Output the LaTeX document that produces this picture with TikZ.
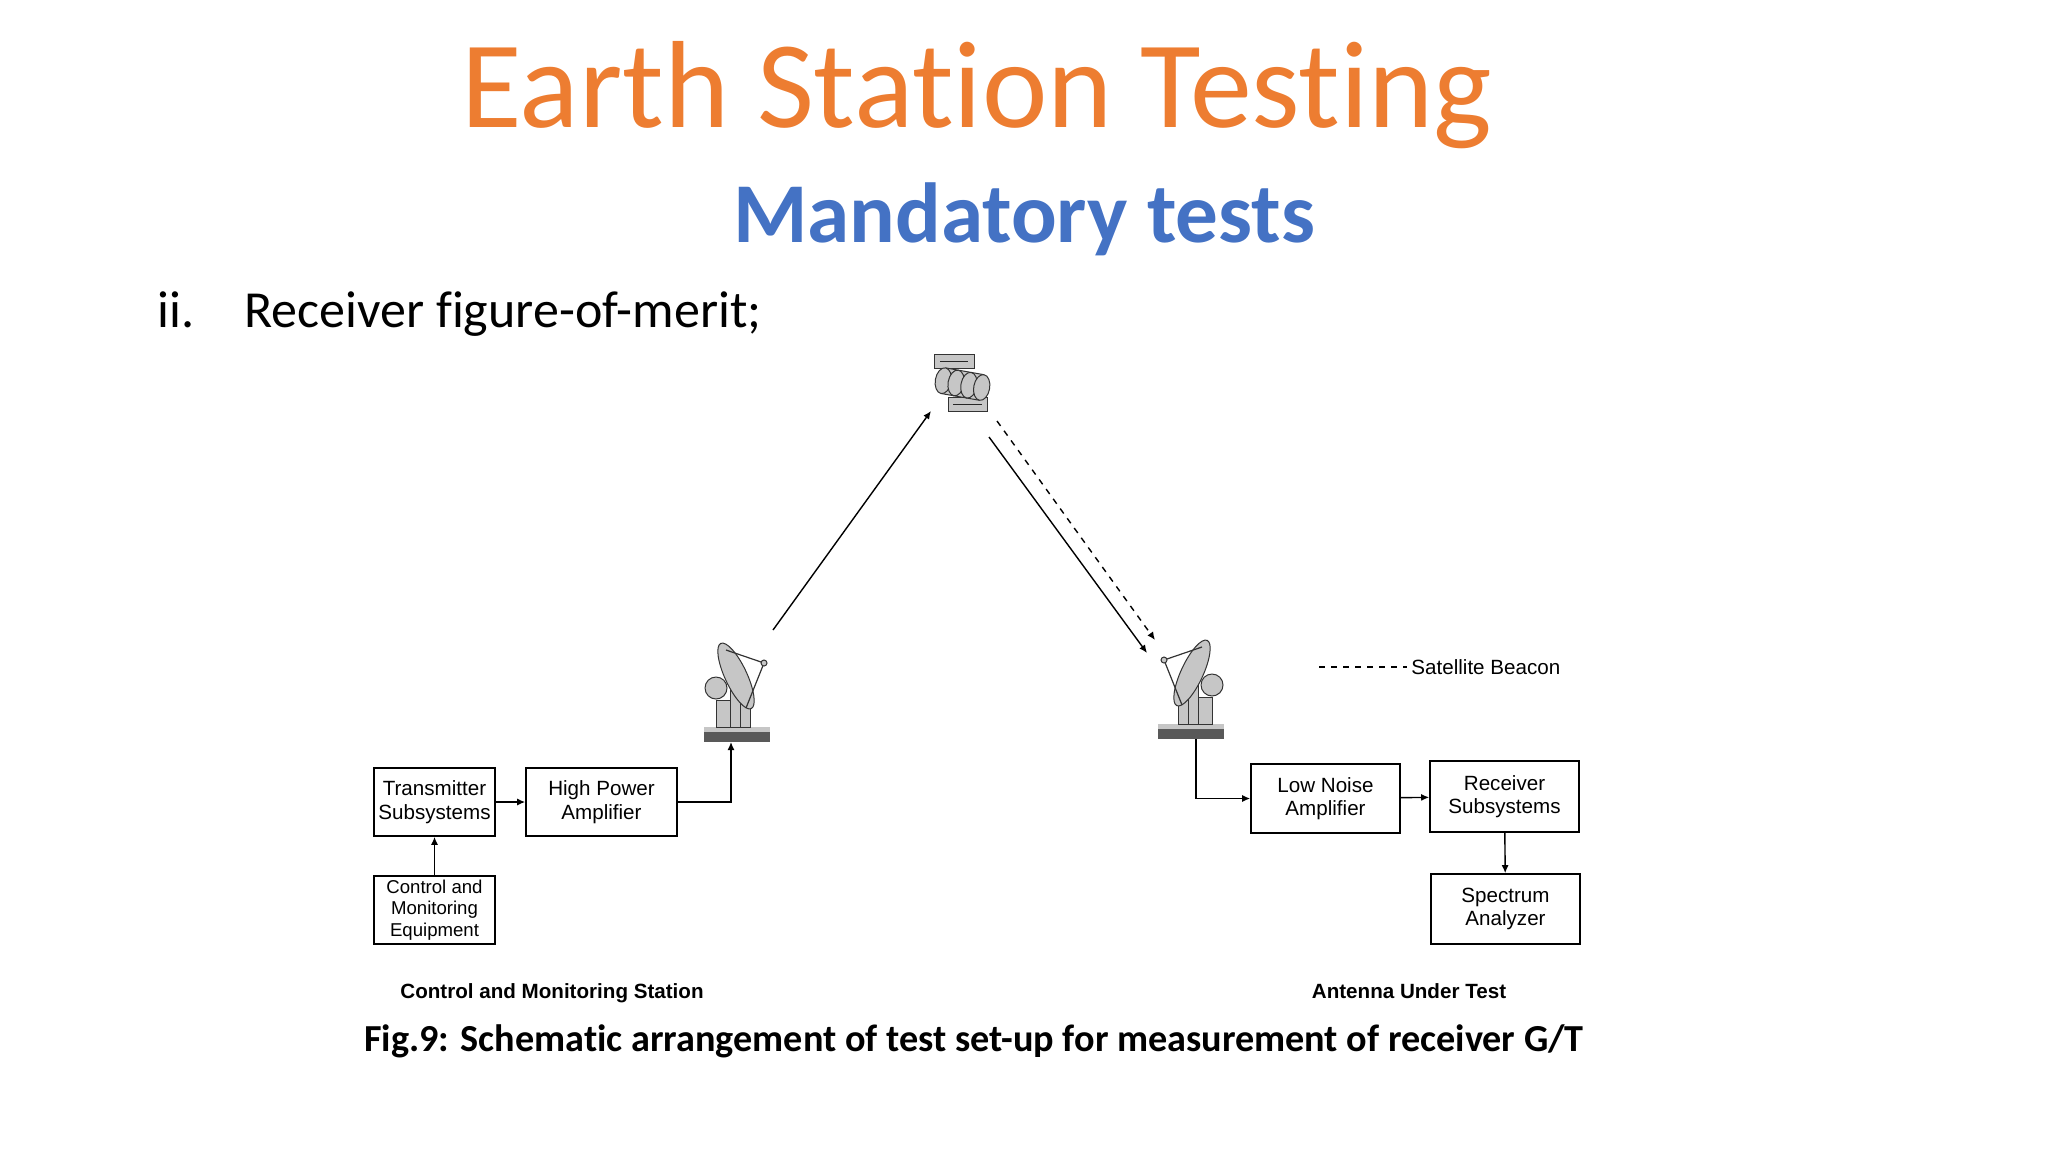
\documentclass[tikz,border=0pt]{standalone}
\usepackage{fontspec}
\setmainfont{Carlito}[Ligatures={NoCommon}]
\newfontfamily\arial{Liberation Sans}
\usetikzlibrary{arrows.meta}
\definecolor{torange}{HTML}{ED7D31}
\definecolor{tblue}{HTML}{4472C4}
\begin{document}
\begin{tikzpicture}[x=0.5pt,y=-0.5pt,
  blk/.style={draw,line width=0.8pt,minimum width=60pt,minimum height=33pt,inner sep=1pt,align=center,font=\arial\fontsize{10.3}{11.8}\selectfont},
  conn/.style={line width=0.7pt,-{Latex[length=4pt,width=3.5pt]}},
  lbl/.style={font=\arial\bfseries\fontsize{10.3}{12}\selectfont},
  gfill/.style={fill=gray!45,draw=gray!40!black,line width=0.5pt}]
\useasboundingbox (0,0) rectangle (2048,1152);
\node[text=torange,font=\fontsize{62}{66}\selectfont,anchor=base] (title) at (977,127) {Earth Station Testing};
\node[text=tblue,font=\bfseries\fontsize{42.6}{46}\selectfont,anchor=base] (sub) at (1024,242) {Mandatory tests};
\node[font=\fontsize{26}{30}\selectfont,anchor=base west,inner sep=0] (ii) at (157,327) {ii.};
\node[font=\fontsize{26}{30}\selectfont,anchor=base west,inner sep=0] (rf) at (244,327) {Receiver figure-of-merit;};

% boxes
\node[blk,minimum width=60.5pt,minimum height=34pt] (tx) at (434.5,802) {Transmitter\\Subsystems};
\node[blk,minimum width=75.5pt,minimum height=34pt] (hpa) at (601.5,802) {High Power\\Amplifier};
\node[blk,minimum width=60.5pt,minimum height=34pt,font=\arial\fontsize{9.3}{10.8}\selectfont] (cme) at (434.5,910) {Control and\\Monitoring\\Equipment};
\node[blk,minimum width=74.5pt,minimum height=34.5pt] (lna) at (1325.5,798.5) {Low Noise\\Amplifier};
\node[blk,minimum width=74.5pt,minimum height=35.5pt] (rx) at (1504.5,796.5) {Receiver\\Subsystems};
\node[blk,minimum width=74.5pt,minimum height=35pt] (sa) at (1505.5,909) {Spectrum\\Analyzer};

% left antenna
\begin{scope}[shift={(738,0)}]
  \fill[gray!70!black] (-34,727) rectangle (32,742);
  \fill[gray!45] (-34,727) rectangle (32,732);
  \draw[gfill] (-22,700) rectangle (12,727);
  \draw[gfill] (-8,685) rectangle (2,727);
  \draw[gfill] (-22,688) circle (11);
  \draw[gfill,rotate around={25:(-2,676)}] (-2,676) ellipse (11 and 36);
  \draw[gray!40!black,line width=0.6pt] (-12,650) -- (26,663) -- (8,708);
  \draw[gfill] (26,663) circle (3);
\end{scope}
\coordinate (la) at (731,742);
% right antenna (mirrored)
\begin{scope}[shift={(1190,0)},xscale=-1]
  \fill[gray!70!black] (-34,724) rectangle (32,739);
  \fill[gray!45] (-34,724) rectangle (32,729);
  \draw[gfill] (-22,697) rectangle (12,724);
  \draw[gfill] (-8,682) rectangle (2,724);
  \draw[gfill] (-22,685) circle (11);
  \draw[gfill,rotate around={25:(-2,673)}] (-2,673) ellipse (11 and 36);
  \draw[gray!40!black,line width=0.6pt] (-12,647) -- (26,660) -- (8,705);
  \draw[gfill] (26,660) circle (3);
\end{scope}
\coordinate (ra) at (1196,739);

% satellite
\draw[gfill] (934,354) rectangle (974,368);
\draw[gray!30!black] (940,361) -- (968,361);
\draw[gfill] (948,397) rectangle (987,411);
\draw[gray!30!black] (953,404) -- (982,404);
\begin{scope}[rotate around={-10:(962,384)}]
  \fill[gray!45] (943,371) rectangle (982,397);
  \draw[gray!40!black,line width=0.5pt] (943,371) -- (982,371) (943,397) -- (982,397);
  \draw[gfill] (943,384) ellipse (8 and 13);
  \draw[gfill] (956,384) ellipse (8 and 13);
  \draw[gfill] (969,384) ellipse (8 and 13);
  \draw[gfill] (982,384) ellipse (8 and 13);
\end{scope}
\coordinate (sat) at (960,383);

% links
\coordinate (u1) at (773,630); \coordinate (u2) at (931,411);
\draw[conn] (u1) -- (u2);
\coordinate (d1) at (989,437); \coordinate (d2) at (1147,653);
\draw[conn] (d1) -- (d2);
\coordinate (b1) at (997,421); \coordinate (b2) at (1155,640);
\draw[conn,dashed] (b1) -- (b2);

% connectors
\draw[conn] (tx) -- (hpa);
\draw[conn] (cme) -- (tx);
\draw[conn] (hpa.east) -| (la);
\draw[conn] (ra) |- (lna.west);
\draw[conn] (lna) -- (rx);
\draw[conn] (rx) -- (sa);

% legend
\coordinate (l1) at (1319,667); \coordinate (l2) at (1407,667);
\draw[line width=0.7pt,dashed] (l1) -- (l2);
\node[anchor=west,inner sep=2pt,font=\arial\fontsize{10.3}{12}\selectfont] (leg) at (l2) {Satellite Beacon};

\node[lbl] (cms) at (552,993) {Control and Monitoring Station};
\node[lbl] (aut) at (1409,991) {Antenna Under Test};
\node[font=\bfseries\fontsize{19.1}{22}\selectfont] (cap) at (974,1041) {Fig.9: Schematic arrangement of test set-up for measurement of receiver G/T};
\end{tikzpicture}
\end{document}
